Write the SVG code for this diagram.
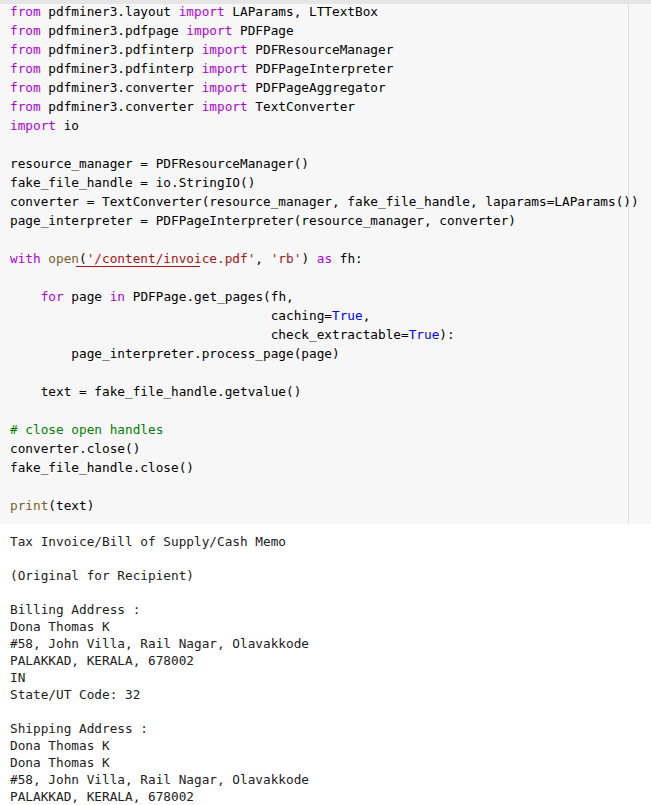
<svg xmlns="http://www.w3.org/2000/svg" width="651" height="805" viewBox="0 0 651 805">
<style>
text{font-family:"DejaVu Sans Mono","Liberation Mono",monospace;font-size:12.74px;fill:#000;white-space:pre}
.k{fill:#af00db}.f{fill:#795e26}.s{fill:#a31515}.b{fill:#0000ff}.c{fill:#008000}
.o text{fill:#212121}
</style>
<rect width="651" height="805" fill="#fff"/>
<g id="code">
<rect x="0" y="3" width="651" height="521" fill="#f7f7f7"/>
<rect x="0" y="0" width="651" height="4" fill="#e6e6e6"/>
<line x1="628.5" y1="3" x2="628.5" y2="524" stroke="#e0e0e0"/>
<text x="10" y="16" xml:space="preserve"><tspan class="k">from</tspan> pdfminer3.layout <tspan class="k">import</tspan> LAParams, LTTextBox</text>
<text x="10" y="35" xml:space="preserve"><tspan class="k">from</tspan> pdfminer3.pdfpage <tspan class="k">import</tspan> PDFPage</text>
<text x="10" y="54" xml:space="preserve"><tspan class="k">from</tspan> pdfminer3.pdfinterp <tspan class="k">import</tspan> PDFResourceManager</text>
<text x="10" y="73" xml:space="preserve"><tspan class="k">from</tspan> pdfminer3.pdfinterp <tspan class="k">import</tspan> PDFPageInterpreter</text>
<text x="10" y="92" xml:space="preserve"><tspan class="k">from</tspan> pdfminer3.converter <tspan class="k">import</tspan> PDFPageAggregator</text>
<text x="10" y="111" xml:space="preserve"><tspan class="k">from</tspan> pdfminer3.converter <tspan class="k">import</tspan> TextConverter</text>
<text x="10" y="130" xml:space="preserve"><tspan class="k">import</tspan> io</text>
<text x="10" y="168" xml:space="preserve">resource_manager = PDFResourceManager()</text>
<text x="10" y="187" xml:space="preserve">fake_file_handle = io.StringIO()</text>
<text x="10" y="206" xml:space="preserve">converter = TextConverter(resource_manager, fake_file_handle, laparams=LAParams())</text>
<text x="10" y="225" xml:space="preserve">page_interpreter = PDFPageInterpreter(resource_manager, converter)</text>
<text x="10" y="263" xml:space="preserve"><tspan class="k">with</tspan> <tspan class="f">open</tspan>(<tspan class="s">'/content/invoice.pdf'</tspan>, <tspan class="s">'rb'</tspan>) <tspan class="k">as</tspan> fh:</text>
<line x1="76" y1="266.5" x2="200" y2="266.5" stroke="#a31515"/>
<text x="10" y="301" xml:space="preserve">    <tspan class="k">for</tspan> page <tspan class="k">in</tspan> PDFPage.get_pages(fh,</text>
<text x="10" y="320" xml:space="preserve">                                  caching=<tspan class="b">True</tspan>,</text>
<text x="10" y="339" xml:space="preserve">                                  check_extractable=<tspan class="b">True</tspan>):</text>
<text x="10" y="358" xml:space="preserve">        page_interpreter.process_page(page)</text>
<text x="10" y="396" xml:space="preserve">    text = fake_file_handle.getvalue()</text>
<text x="10" y="434" xml:space="preserve" class="c"># close open handles</text>
<text x="10" y="453" xml:space="preserve">converter.close()</text>
<text x="10" y="472" xml:space="preserve">fake_file_handle.close()</text>
<text x="10" y="510" xml:space="preserve"><tspan class="f">print</tspan>(text)</text>
</g>
<g id="output" class="o">
<text x="10" y="546" xml:space="preserve">Tax Invoice/Bill of Supply/Cash Memo</text>
<text x="10" y="580" xml:space="preserve">(Original for Recipient)</text>
<text x="10" y="614" xml:space="preserve">Billing Address :</text>
<text x="10" y="631" xml:space="preserve">Dona Thomas K</text>
<text x="10" y="648" xml:space="preserve">#58, John Villa, Rail Nagar, Olavakkode</text>
<text x="10" y="665" xml:space="preserve">PALAKKAD, KERALA, 678002</text>
<text x="10" y="682" xml:space="preserve">IN</text>
<text x="10" y="699" xml:space="preserve">State/UT Code: 32</text>
<text x="10" y="733" xml:space="preserve">Shipping Address :</text>
<text x="10" y="750" xml:space="preserve">Dona Thomas K</text>
<text x="10" y="767" xml:space="preserve">Dona Thomas K</text>
<text x="10" y="784" xml:space="preserve">#58, John Villa, Rail Nagar, Olavakkode</text>
<text x="10" y="801" xml:space="preserve">PALAKKAD, KERALA, 678002</text>
</g>
</svg>
